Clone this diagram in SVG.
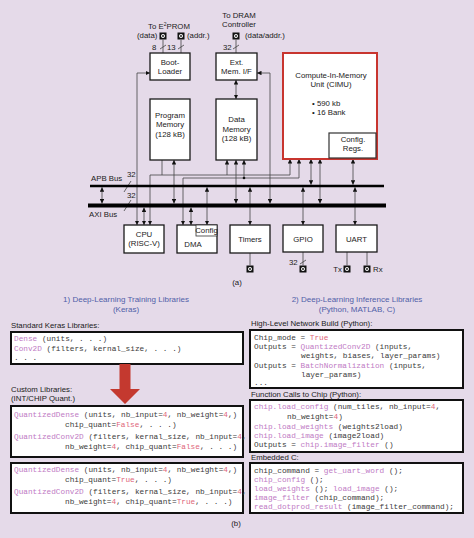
<svg xmlns="http://www.w3.org/2000/svg" width="474" height="538" viewBox="0 0 474 538">
<defs>
<style>
.t{font-family:"Liberation Sans",Arial,sans-serif;font-size:7.8px;fill:#1a1a1a}
.m{text-anchor:middle}
.h{font-family:"Liberation Sans",Arial,sans-serif;font-size:8px;fill:#5060a8;text-anchor:middle}
.c{font-family:"Liberation Mono","Courier New",monospace;font-size:7.75px;fill:#3a3a3a;white-space:pre}
.f{fill:#c07ac4}
.l{fill:#e0667a}
.box{fill:#fff;stroke:#1a1a1a;stroke-width:1.3}
.cbox{fill:#fff;stroke:#111;stroke-width:2}
.w{fill:none;stroke:#444;stroke-width:0.8}
.bus{stroke:#000}
</style>
<marker id="a" viewBox="0 0 10 10" refX="10" refY="5" markerWidth="4.5" markerHeight="4.5" markerUnits="userSpaceOnUse" orient="auto-start-reverse"><path d="M0,0 L10,5 L0,10 z" fill="#111"/></marker>
<g id="pad"><rect x="-3.5" y="-3.5" width="7" height="7" fill="#111"/><circle r="2" fill="#fff"/><path d="M-1.3,-1.3 L1.3,1.3 M1.3,-1.3 L-1.3,1.3" stroke="#111" stroke-width="0.7"/></g>
</defs>
<rect width="474" height="538" fill="#e5dae9"/>

<!-- (a) block diagram -->
<g id="labels-top">
<text class="t m" x="169" y="29">To E<tspan font-size="5" dy="-3">2</tspan><tspan dy="3">PROM</tspan></text>
<text class="t" x="137" y="38">(data)</text>
<text class="t" x="187" y="38">(addr.)</text>
<text class="t m" x="239" y="18">To DRAM</text>
<text class="t m" x="239" y="27">Controller</text>
<text class="t" x="245" y="38">(data/addr.)</text>
<text class="t" x="152" y="50">8</text>
<text class="t" x="167" y="50">13</text>
<text class="t" x="223" y="50">32</text>
<text class="t" x="91" y="181">APB Bus</text>
<text class="t" x="127" y="177">32</text>
<text class="t" x="89" y="217">AXI Bus</text>
<text class="t" x="127" y="198">32</text>
<text class="t" x="289" y="265">32</text>
<text class="t" x="342" y="272" text-anchor="end">Tx</text>
<text class="t" x="373" y="272">Rx</text>
<text class="t m" x="237" y="285">(a)</text>
</g>

<g id="pads">
<use href="#pad" x="163" y="36"/>
<use href="#pad" x="181" y="36"/>
<use href="#pad" x="236" y="36"/>
<use href="#pad" x="250" y="269"/>
<use href="#pad" x="303" y="269"/>
<use href="#pad" x="347" y="269"/>
<use href="#pad" x="367" y="269"/>
</g>

<g id="connectors">
<path class="w" d="M163,39.5 V53 M181,39.5 V53 M236,39.5 V53"/>
<path class="w" d="M160,49 L166,45 M178,49 L184,45 M233,49 L239,45 M300,264 L306,260"/>
<path class="w" d="M250,253 V265.5 M303,252 V265.5 M347,252 V265.5 M367,252 V265.5"/>
<path class="w" d="M124,192 L131,181 M124,211 L131,200"/>
<path class="w" marker-start="url(#a)" marker-end="url(#a)" d="M236,80 V99"/>
<path class="w" marker-start="url(#a)" marker-end="url(#a)" d="M270,203.5 V73 H257"/>
<path class="w" marker-start="url(#a)" marker-end="url(#a)" d="M137,225 V73 H150"/>
<path class="w" marker-start="url(#a)" marker-end="url(#a)" d="M150,225 V175 H290 V159"/>
<path class="w" d="M162,160 V175"/>
<path class="w" marker-start="url(#a)" d="M227,160 V175"/>
<path class="w" marker-start="url(#a)" marker-end="url(#a)" d="M183,225 V178 H299 V159"/>
<path class="w" marker-start="url(#a)" d="M244,160 V178"/>
<circle cx="244" cy="178" r="1.3" fill="#111"/>
<path class="w" marker-start="url(#a)" marker-end="url(#a)" d="M174,160 V203.5"/>
<path class="w" marker-start="url(#a)" marker-end="url(#a)" d="M236,160 V203.5"/>
<path class="w" marker-start="url(#a)" marker-end="url(#a)" d="M144,207.5 V225"/>
<path class="w" marker-start="url(#a)" marker-end="url(#a)" d="M191,207.5 V225"/>
<path class="w" marker-start="url(#a)" marker-end="url(#a)" d="M207,187.3 V225"/>
<path class="w" marker-start="url(#a)" marker-end="url(#a)" d="M250,187.3 V225"/>
<path class="w" marker-start="url(#a)" marker-end="url(#a)" d="M303,187.3 V225"/>
<path class="w" marker-start="url(#a)" marker-end="url(#a)" d="M355,187.3 V225"/>
<path class="w" marker-start="url(#a)" marker-end="url(#a)" d="M311,159 V184.7"/>
<path class="w" marker-start="url(#a)" marker-end="url(#a)" d="M320,159 V203.5"/>
<path class="w" marker-start="url(#a)" marker-end="url(#a)" d="M353,159 V184.7"/>
<path class="w" marker-start="url(#a)" marker-end="url(#a)" d="M102,187.3 V203.5"/>
<line class="bus" x1="90" y1="186" x2="384" y2="186" stroke-width="2.6"/>
<line class="bus" x1="88" y1="205.5" x2="386" y2="205.5" stroke-width="4"/>
</g>

<g id="boot-loader"><rect class="box" x="150" y="53" width="40" height="27"/><text class="t m" x="170" y="64.5">Boot-</text><text class="t m" x="170" y="73.5">Loader</text></g>
<g id="ext-mem"><rect class="box" x="216" y="53" width="41" height="27"/><text class="t m" x="236.5" y="64.5">Ext.</text><text class="t m" x="236.5" y="73.5">Mem. I/F</text></g>
<g id="program-memory"><rect class="box" x="150" y="99" width="40" height="61"/><text class="t m" x="170" y="118">Program</text><text class="t m" x="170" y="127">Memory</text><text class="t m" x="170" y="137">(128 kB)</text></g>
<g id="data-memory"><rect class="box" x="216" y="99" width="41" height="61"/><text class="t m" x="236.5" y="122">Data</text><text class="t m" x="236.5" y="132">Memory</text><text class="t m" x="236.5" y="141">(128 kB)</text></g>
<g id="cimu"><rect x="283" y="53" width="94" height="106" fill="#fff" stroke="#c8352f" stroke-width="2"/>
<text class="t m" x="331" y="78">Compute-In-Memory</text><text class="t m" x="331" y="87">Unit (CIMU)</text>
<text class="t" x="312" y="106">• 590 kb</text><text class="t" x="312" y="115">• 16 Bank</text>
<rect x="329" y="133" width="47" height="25" fill="#fff" stroke="#333" stroke-width="1.2"/>
<text class="t m" x="353" y="142">Config.</text><text class="t m" x="353" y="151">Regs.</text></g>
<g id="cpu"><rect class="box" x="124" y="225" width="40" height="28"/><text class="t m" x="144" y="237">CPU</text><text class="t m" x="144" y="246">(RISC-V)</text></g>
<g id="dma"><rect class="box" x="177" y="225" width="40" height="28"/><rect x="196" y="225" width="21" height="11" fill="#fff" stroke="#333" stroke-width="0.8"/><text class="t m" x="206.5" y="233" font-size="5.5">Config</text><text class="t m" x="193" y="247">DMA</text></g>
<g id="timers"><rect class="box" x="230" y="225" width="40" height="28"/><text class="t m" x="250" y="242">Timers</text></g>
<g id="gpio"><rect class="box" x="283" y="225" width="40" height="27"/><text class="t m" x="303" y="242">GPIO</text></g>
<g id="uart"><rect class="box" x="336" y="225" width="41" height="27"/><text class="t m" x="356.5" y="242">UART</text></g>

<!-- (b) software libraries -->
<g id="headings">
<text class="h" x="126" y="302">1) Deep-Learning Training Libraries</text>
<text class="h" x="126" y="312">(Keras)</text>
<text class="h" x="357" y="302">2) Deep-Learning Inference Libraries</text>
<text class="h" x="357" y="312">(Python, MATLAB, C)</text>
<text class="t" x="11" y="328">Standard Keras Libraries:</text>
<text class="t" x="11" y="392">Custom Libraries:</text>
<text class="t" x="11" y="401">(INT/CHIP Quant.)</text>
<text class="t" x="251" y="326">High-Level Network Build (Python):</text>
<text class="t" x="251" y="397">Function Calls to Chip (Python):</text>
<text class="t" x="251" y="460">Embedded C:</text>
<text class="t m" x="236" y="526">(b)</text>
</g>

<g id="keras-standard"><rect class="cbox" x="11" y="332" width="232" height="32"/>
<text class="c" x="14" y="341"><tspan class="f">Dense</tspan> (units, . . .)</text>
<text class="c" x="14" y="351"><tspan class="f">Conv2D</tspan> (filters, kernal_size, . . .)</text>
<text class="c" x="14" y="360">. . .</text></g>

<g id="red-arrow"><path d="M119.5,364 H130.5 V389 H140 L125,404 L110,389 H119.5 Z" fill="#c4392f"/></g>

<g id="custom-false"><rect class="cbox" x="11" y="406" width="232" height="51"/>
<text class="c" x="14" y="417"><tspan class="f">QuantizedDense</tspan> (units, nb_input=<tspan class="l">4</tspan>, nb_weight=<tspan class="l">4</tspan>,)</text>
<text class="c" x="65" y="427">chip_quant=<tspan class="l">False</tspan>, . . .)</text>
<text class="c" x="14" y="439"><tspan class="f">QuantizedConv2D</tspan> (filters, kernal_size, nb_input=<tspan class="l">4</tspan>,</text>
<text class="c" x="65" y="449">nb_weight=<tspan class="l">4</tspan>, chip_quant=<tspan class="l">False</tspan>, . . .)</text></g>

<g id="custom-true"><rect class="cbox" x="11" y="463" width="232" height="50"/>
<text class="c" x="14" y="472"><tspan class="f">QuantizedDense</tspan> (units, nb_input=<tspan class="l">4</tspan>, nb_weight=<tspan class="l">4</tspan>,)</text>
<text class="c" x="65" y="482">chip_quant=<tspan class="l">True</tspan>, . . .)</text>
<text class="c" x="14" y="494"><tspan class="f">QuantizedConv2D</tspan> (filters, kernal_size, nb_input=<tspan class="l">4</tspan>,</text>
<text class="c" x="65" y="504">nb_weight=<tspan class="l">4</tspan>, chip_quant=<tspan class="l">True</tspan>, . . .)</text></g>

<g id="network-build"><rect class="cbox" x="250" y="330" width="213" height="58"/>
<text class="c" x="254" y="340">Chip_mode = <tspan class="l">True</tspan></text>
<text class="c" x="254" y="349">Outputs = <tspan class="f">QuantizedConv2D</tspan> (inputs,</text>
<text class="c" x="301" y="358">weights, biases, layer_params)</text>
<text class="c" x="254" y="368">Outputs = <tspan class="f">BatchNormalization</tspan> (inputs,</text>
<text class="c" x="301" y="377">layer_params)</text>
<text class="c" x="254" y="385">...</text></g>

<g id="chip-calls"><rect class="cbox" x="250" y="400" width="213" height="52"/>
<text class="c" x="254" y="409"><tspan class="f">chip.load_config</tspan> (num_tiles, nb_input=<tspan class="l">4</tspan>,</text>
<text class="c" x="287" y="419">nb_weight=<tspan class="l">4</tspan>)</text>
<text class="c" x="254" y="429"><tspan class="f">chip.load_weights</tspan> (weights2load)</text>
<text class="c" x="254" y="438"><tspan class="f">chip.load_image</tspan> (image2load)</text>
<text class="c" x="254" y="447">Outputs = <tspan class="f">chip.image_filter</tspan> ()</text></g>

<g id="embedded-c"><rect class="cbox" x="250" y="463" width="213" height="50"/>
<text class="c" x="254" y="473">chip_command = <tspan class="f">get_uart_word</tspan> ();</text>
<text class="c" x="254" y="482"><tspan class="f">chip_config</tspan> ();</text>
<text class="c" x="254" y="491"><tspan class="f">load_weights</tspan> (); <tspan class="f">load_image</tspan> ();</text>
<text class="c" x="254" y="500"><tspan class="f">image_filter</tspan> (chip_command);</text>
<text class="c" x="254" y="509"><tspan class="f">read_dotprod_result</tspan> (image_filter_command);</text></g>
</svg>
